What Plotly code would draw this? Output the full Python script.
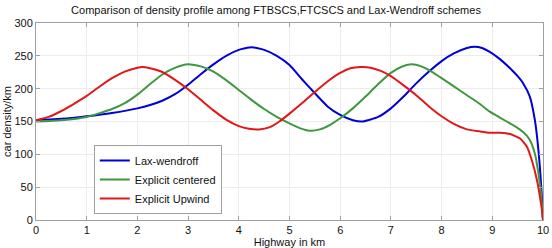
import plotly.graph_objects as go

# Lax-Wendroff
x_lw = [0, 0.5, 1, 1.5, 2, 2.25, 2.5, 2.75, 3, 3.25, 3.5, 3.75, 4, 4.25, 4.5, 4.75, 5, 5.25, 5.5, 5.75, 6, 6.25, 6.45,
        6.75, 7, 7.25, 7.5, 7.75, 8, 8.25, 8.5, 8.65, 8.8, 8.95, 9.15, 9.35, 9.5, 9.61, 9.74, 9.84, 9.91, 9.97, 10]
y_lw = [152, 154, 158, 163, 170, 175, 182, 192, 206, 222, 237, 250, 259, 263, 259, 250, 236, 214, 193, 173, 160, 152, 150,
        157, 170, 188, 208, 226, 242, 254, 262, 264, 262, 256, 245, 231, 219, 208, 188, 152, 106, 45, 0]

# Explicit centered
x_ec = [0, 0.5, 1, 1.5, 1.75, 2, 2.25, 2.5, 2.75, 3, 3.25, 3.5, 3.75, 4, 4.25, 4.5, 4.75, 5, 5.2, 5.4, 5.6, 5.8, 6, 6.25, 6.5,
        6.75, 7, 7.2, 7.4, 7.6, 7.8, 8, 8.25, 8.5, 8.75, 8.95, 9.15, 9.35, 9.5, 9.61, 9.74, 9.84, 9.91, 9.97, 10]
y_ec = [150, 152, 157, 169, 178, 191, 207, 222, 232, 237, 234, 226, 213, 198, 183, 169, 157, 147, 140, 136, 138, 145, 155, 170, 188,
        207, 224, 233, 237, 234, 226, 216, 203, 190, 177, 165, 156, 147, 140, 134, 122, 101, 71, 33, 0]

# Explicit Upwind
x_eu = [0, 0.25, 0.5, 0.75, 1, 1.25, 1.5, 1.75, 2, 2.1, 2.25, 2.5, 2.75, 3, 3.25, 3.5, 3.75, 4, 4.2, 4.4, 4.6, 4.8, 5,
        5.25, 5.5, 5.75, 6, 6.2, 6.4, 6.6, 6.8, 7, 7.25, 7.5, 7.75, 8, 8.25, 8.5, 8.75, 8.95, 9.15, 9.35, 9.55, 9.68,
        9.78, 9.88, 9.97, 10]
y_eu = [152, 157, 166, 177, 189, 203, 216, 226, 232, 233, 231, 225, 213, 199, 183, 167, 153, 143, 139, 138, 141, 150, 162,
        178, 195, 211, 224, 231, 233, 232, 227, 219, 205, 190, 173, 158, 146, 138, 135, 133, 133, 131, 124, 112,
        91, 61, 20, 0]

x_ticks = [0, 1, 2, 3, 4, 5, 6, 7, 8, 9, 10]
y_ticks = [0, 50, 100, 150, 200, 250, 300]

FONT = "Liberation Sans, Arial, sans-serif"

fig = go.Figure()
for xs, ys, name, color in [
    (x_lw, y_lw, "Lax-wendroff", "#0000d8"),
    (x_ec, y_ec, "Explicit centered", "#3f973f"),
    (x_eu, y_eu, "Explicit Upwind", "#e01818"),
]:
    fig.add_trace(go.Scatter(x=xs, y=ys, mode="lines", name=name,
                             line=dict(color=color, width=2, shape="spline", smoothing=0.5)))

axis_common = dict(showline=True, linecolor="#a0a0a0", linewidth=1, mirror="ticks",
                   ticks="inside", ticklen=4, tickcolor="#a0a0a0", automargin=False,
                   showgrid=True, gridcolor="#ececec", gridwidth=1, zeroline=False,
                   tickfont=dict(family=FONT, size=11, color="#111111"))

fig.update_layout(
    width=552, height=248,
    margin=dict(l=36, r=9, t=23, b=28),
    paper_bgcolor="white", plot_bgcolor="white",
    title=dict(text="Comparison of density profile among FTBSCS,FTCSCS and Lax-Wendroff schemes",
               x=0.5, xanchor="center", y=0.96, yanchor="middle",
               font=dict(family=FONT, size=11, color="#111111")),
    xaxis=dict(range=[0, 10], tickvals=x_ticks, ticktext=[str(t) for t in x_ticks],
               title=dict(text="Highway in km", standoff=0, font=dict(family=FONT, size=11, color="#111111")),
               **axis_common),
    yaxis=dict(range=[0, 300], tickvals=y_ticks, ticktext=[str(t) for t in y_ticks],
               title=dict(text="car density/km", standoff=0, font=dict(family=FONT, size=11, color="#111111")),
               **axis_common),
    legend=dict(x=0.114, y=0.03, xanchor="left", yanchor="bottom",
                bgcolor="white", bordercolor="#a0a0a0", borderwidth=1,
                font=dict(family=FONT, size=11, color="#111111"),
                tracegroupgap=0, itemwidth=30),
    showlegend=True,
)

fig.write_html("out.html", config={"displayModeBar": False},
               post_script="document.body.style.margin='0';document.body.style.padding='0';")
